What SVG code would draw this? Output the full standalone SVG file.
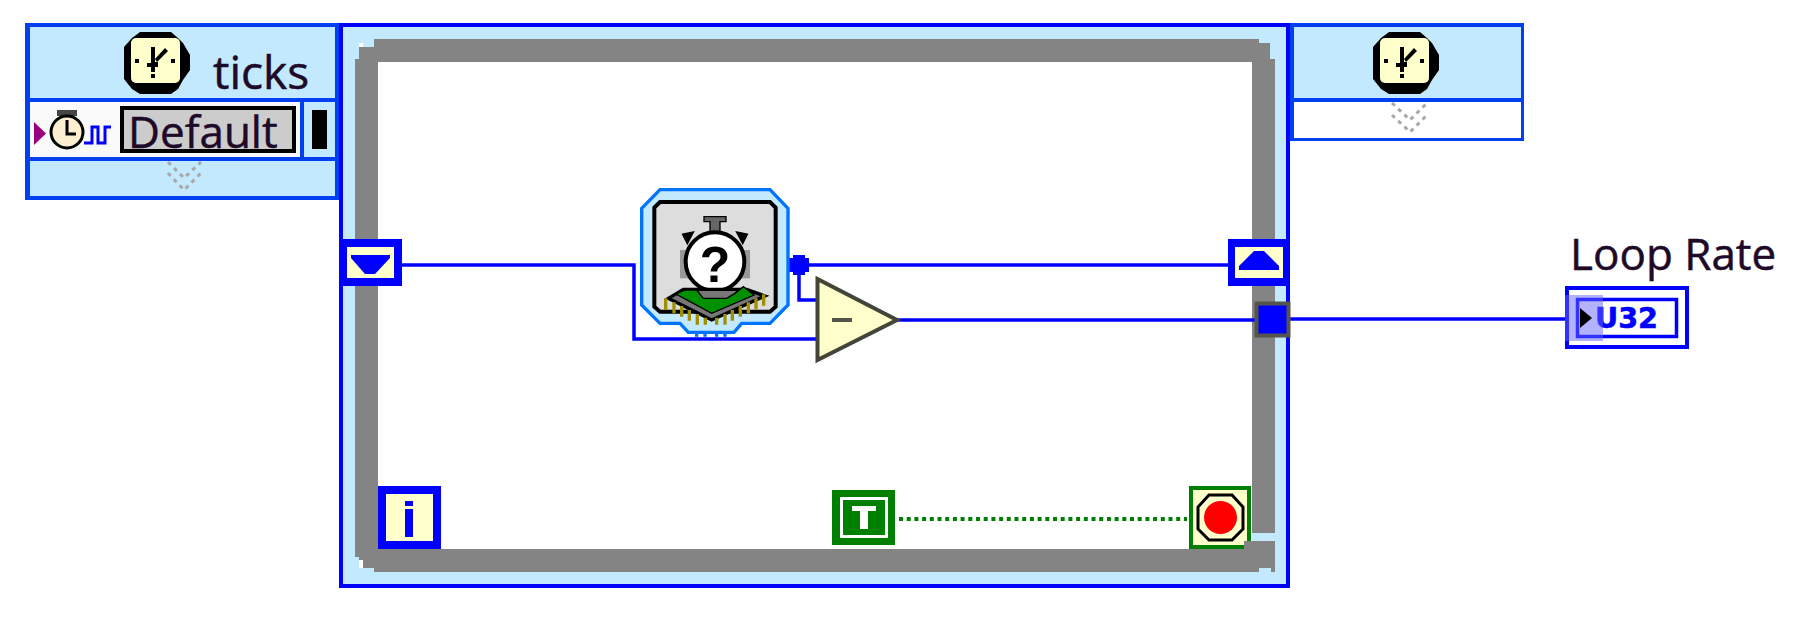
<svg xmlns="http://www.w3.org/2000/svg" width="1797" height="620" viewBox="0 0 1797 620">
<style>
.lb{fill:#C3E9FF}
.hb{fill:#0040F0}
.txt{font-family:"Open Sans","Noto Sans",sans-serif;font-size:44px;fill:#1E0A28;stroke:#1E0A28;stroke-width:.5}
.wire{fill:none;stroke:#0000FF;stroke-width:3.5}
.chev{fill:none;stroke:#A8A8A8;stroke-width:3;stroke-dasharray:4 4.500}
.pale{fill:#FFFFCC}
.blue{fill:#0000FF}
</style>
<defs>
<g id="clock">
<path fill="#000" d="M-17-31H14L21-25 26-20 33-8V7L26 17 21 26 14 31H-17L-25 26-33 16V-16L-25-25Z"/>
<rect class="pale" x="-26" y="-25" width="49" height="45" rx="5"/>
<path fill="#000" d="M-6-16H-2V-1H1V4H-2V9H-6V4H-10V0H-6ZM-2-4L8-15 11-12 0-1Z"/>
<rect x="-22" y="-4" width="4" height="4" fill="#000"/><rect x="14" y="-4" width="4" height="4" fill="#000"/><rect x="-6" y="11" width="4" height="4" fill="#000"/>
</g>
</defs>
<rect width="1797" height="620" fill="#fff"/>

<g id="timed-loop">
<rect x="341" y="25" width="947" height="561" class="lb" stroke="#0000FF" stroke-width="4"/>
<rect x="378" y="62" width="874" height="487" fill="#fff"/>
<path fill="#848484" fill-rule="evenodd" d="M374 39H1259V43H1270V59H1275V533H1252V62H378V549H1252V541H1275V572H1271V568H1259V572H374V568H363V560H359V557H355V59H359V47H374Z"/>
<rect x="359" y="43" width="4" height="4" fill="#fff"/>
<rect x="359" y="560" width="4" height="8" fill="#fff"/>
</g>

<g id="left-header">
<rect x="25" y="23" width="314" height="177" class="hb"/>
<rect x="30" y="27" width="305" height="71" class="lb"/>
<rect x="30" y="102" width="270" height="55" fill="#FAFAFA"/>
<rect x="304" y="102" width="31" height="55" class="lb"/>
<rect x="30" y="161" width="305" height="35" class="lb"/>
<use href="#clock" x="157" y="63"/>
<text class="txt" x="213" y="89" style="font-size:46px">ticks</text>
<path fill="#990080" d="M34 122L46 133.500 34 145Z"/>
<rect x="57" y="110" width="20" height="6" fill="#444"/>
<circle cx="67" cy="132" r="16" fill="#FDEFCF" stroke="#000" stroke-width="3"/>
<path d="M67 120V134H76" fill="none" stroke="#000" stroke-width="3"/>
<path d="M84 143H92V127H98V143H105V127H111" fill="none" stroke="#0000FF" stroke-width="3"/>
<rect x="122" y="108" width="172" height="43" fill="#CCCCCC" stroke="#000" stroke-width="4"/>
<text class="txt" x="128" y="148">Default</text>
<rect x="312" y="110" width="15" height="39" fill="#000"/>
<path class="chev" d="M168 162L184 178 201 162M168 173L184 190 201 173"/>
</g>

<g id="right-header">
<rect x="1290" y="23" width="234" height="118" class="hb"/>
<rect x="1294" y="27" width="227" height="71" class="lb"/>
<rect x="1294" y="102" width="227" height="36" fill="#fff"/>
<use href="#clock" x="1406" y="63"/>
<path class="chev" d="M1392 103L1410 120 1427 103M1392 115L1410 132 1427 115"/>
</g>

<g id="connectors">
<path class="wire" d="M402 265H634V339H817"/>
<path class="wire" d="M799 265H1229"/>
<path class="wire" d="M799 265V300H817"/>
<path class="wire" d="M898 320H1255"/>
<path class="wire" d="M1290 319H1565"/>
<path d="M899 519H1187" fill="none" stroke="#008000" stroke-width="4" stroke-dasharray="4 3.700"/>
</g>

<g id="junction"><path class="blue" d="M793 255H805V258H809V272H805V275H793V272H789V258H793Z"/></g>

<g id="left-shift-register">
<rect x="339" y="239" width="63" height="47" class="blue"/>
<rect x="347" y="247" width="47" height="31" class="pale"/>
<path class="blue" d="M351 255H390V258L375 274H365L351 258Z"/>
</g>

<g id="right-shift-register">
<rect x="1228" y="239" width="62" height="47" class="blue"/>
<rect x="1235" y="247" width="48" height="31" class="pale"/>
<path class="blue" d="M1254 251H1264L1279 266V270H1239V266Z"/>
</g>

<g id="tunnel"><rect x="1256.500" y="303.500" width="32" height="32" class="blue" stroke="#55554A" stroke-width="4"/></g>

<g id="timer-node" transform="translate(600 170) scale(.33333)">
<path d="M180 59H510L564 115V405L510 460H425L402 487H265L240 460H180L125 405V115Z" class="lb" stroke="#0073FF" stroke-width="10"/>
<path d="M180 96H510L527 113V410L510 425H180L163 410V113Z" fill="#DDDDDD" stroke="#000" stroke-width="12"/>
<path d="M290 487V500M315 487V500M350 487V500M375 487V500" stroke="#0073FF" stroke-width="10"/>
<path d="M312 140H378V155H360V185H330V155H312Z" fill="#666" stroke="#000" stroke-width="4"/>
<path d="M252 195L275 190 262 215ZM438 195L415 190 428 215Z" stroke="#000" stroke-width="10"/>
<rect x="240" y="240" width="210" height="85" fill="#999"/>
<circle cx="345" cy="275" r="88" fill="#fff" stroke="#000" stroke-width="12"/>
<text x="345" y="335" text-anchor="middle" font-family="'Liberation Sans',sans-serif" font-weight="bold" font-size="150" fill="#000">?</text>
<path d="M205 385L250 358H440L495 378 335 450Z" fill="#777" stroke="#000" stroke-width="10"/>
<path d="M228 372L255 360H290L310 385H380L405 370 430 350 462 375 335 430Z" fill="#009000" stroke="#000" stroke-width="4"/>
<path d="M197 385V420M222 397V430M245 408V440M268 420V452M292 432V464M316 443V464M350 443V464M375 432V464M397 420V452M421 408V440M445 397V430M468 385V418M491 373V407" stroke="#A09000" stroke-width="10" fill="none"/>
</g>

<g id="subtract">
<path d="M817.500 279L897 320 817.500 360Z" class="pale" stroke="#444438" stroke-width="4"/>
<rect x="832" y="318" width="20" height="4" fill="#55554A"/>
</g>

<g id="iteration-terminal">
<rect x="378" y="486" width="63" height="63" class="blue"/>
<rect x="386" y="494" width="47" height="47" class="pale"/>
<rect x="405" y="501" width="8" height="5" class="blue"/>
<rect x="405" y="509" width="8" height="28" class="blue"/>
</g>

<g id="true-constant">
<rect x="832" y="490" width="63" height="55" fill="#008000"/>
<rect x="841.500" y="498.500" width="45" height="38" fill="none" stroke="#fff" stroke-width="3"/>
<path fill="#fff" d="M852 506H876V511H868V529H860V511H852Z"/>
</g>

<g id="stop-terminal">
<rect x="1191" y="488" width="58" height="59" class="pale" stroke="#008000" stroke-width="4"/>
<path d="M1209 495H1232L1243 507V529L1232 540H1209L1198 529V507Z" fill="none" stroke="#000" stroke-width="3"/>
<circle cx="1220.500" cy="517.500" r="16.500" fill="#FF0000"/>
<rect x="1244" y="541" width="8" height="8" fill="#848484"/>
</g>

<g id="loop-rate">
<text class="txt" x="1570" y="270">Loop Rate</text>
<rect x="1567" y="288" width="120" height="59" fill="#fff" stroke="#0000FF" stroke-width="4"/>
<rect x="1577.500" y="299.500" width="99" height="37" fill="#fff" stroke="#0000FF" stroke-width="3.500"/>
<text x="1595" y="328" font-family="'DejaVu Sans',sans-serif" font-weight="bold" font-size="29" fill="#0000FF" stroke="#0000FF" stroke-width=".6" textLength="63" lengthAdjust="spacingAndGlyphs">U32</text>
<rect x="1565" y="295" width="38" height="46" fill="#6666FF" fill-opacity=".5"/>
<path d="M1580 308L1592 318 1580 328Z" fill="#000"/>
</g>
</svg>
